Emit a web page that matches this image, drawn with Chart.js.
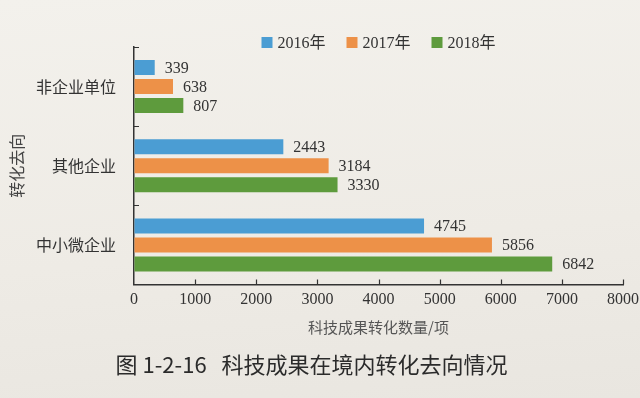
<!DOCTYPE html>
<html>
<head>
<meta charset="utf-8">
<title>科技成果在境内转化去向情况</title>
<script src="https://cdn.jsdelivr.net/npm/chart.js"></script>
<style>
  html, body { margin: 0; padding: 0; }
  body {
    width: 640px; height: 398px; overflow: hidden;
    background: linear-gradient(175deg, #f3f1ec 0%, #eeebe5 60%, #e9e6e0 100%);
  }
  #wrap { position: relative; width: 640px; height: 398px; }
</style>
</head>
<body>
<div id="wrap"><canvas id="chart" width="640" height="398"></canvas></div>
<script>
  // 数据
  const categories = ['非企业单位', '其他企业', '中小微企业'];
  const years = ['2016年', '2017年', '2018年'];
  const values2016 = [339, 2443, 4745];
  const values2017 = [638, 3184, 5856];
  const values2018 = [807, 3330, 6842];
  const xMax = 8000;
  const xStep = 1000;

  const colors = ['#4b9dd3', '#ed9148', '#5e9b3d'];
  const serif = "'Liberation Serif', 'Noto Sans CJK SC', serif";
  const cjk = "'Noto Sans CJK SC', sans-serif";

  // 柱末端数值
  const valueLabels = {
    id: 'valueLabels',
    afterDatasetsDraw(chart) {
      const ctx = chart.ctx;
      ctx.save();
      ctx.font = '16px ' + serif;
      ctx.fillStyle = '#333';
      ctx.textAlign = 'left';
      ctx.textBaseline = 'middle';
      chart.data.datasets.forEach((ds, i) => {
        chart.getDatasetMeta(i).data.forEach((bar, j) => {
          ctx.fillText(String(ds.data[j]), bar.x + 10, bar.y + 1);
        });
      });
      ctx.restore();
    }
  };

  // 向内的小刻度 + 顶部图例
  const decorations = {
    id: 'decorations',
    afterDraw(chart) {
      const ctx = chart.ctx;
      const x = chart.scales.x, y = chart.scales.y;
      const area = chart.chartArea;
      ctx.save();
      ctx.strokeStyle = '#333';
      ctx.lineWidth = 1.2;
      ctx.beginPath();
      for (let v = xStep; v <= xMax; v += xStep) {
        const px = Math.round(x.getPixelForValue(v)) + 0.5;
        ctx.moveTo(px, area.bottom);
        ctx.lineTo(px, area.bottom - 5);
      }
      for (let i = 0; i < categories.length; i++) {
        const py = Math.round(y.getPixelForValue(i - 0.5)) + 0.5;
        ctx.moveTo(area.left, py);
        ctx.lineTo(area.left + 5, py);
      }
      ctx.stroke();

      // 图例
      ctx.font = '16px ' + serif;
      ctx.textBaseline = 'middle';
      ctx.textAlign = 'left';
      const box = 11, gap = 5, spacing = 21;
      const widths = years.map(t => box + gap + ctx.measureText(t).width);
      const total = widths.reduce((a, b) => a + b, 0) + spacing * (years.length - 1);
      let lx = (area.left + area.right) / 2 - total / 2;
      const ly = 42.5;
      years.forEach((t, i) => {
        ctx.fillStyle = colors[i];
        ctx.fillRect(lx, ly - box / 2, box, box);
        ctx.fillStyle = '#333';
        ctx.fillText(t, lx + box + gap, ly + 1);
        lx += widths[i] + spacing;
      });
      ctx.restore();
    }
  };

  const datasets = [values2016, values2017, values2018].map((vals, i) => ({
    label: years[i],
    data: vals,
    backgroundColor: colors[i],
    borderWidth: 0,
    categoryPercentage: 0.72,
    barPercentage: 0.79
  }));

  new Chart(document.getElementById('chart').getContext('2d'), {
    type: 'bar',
    data: { labels: categories, datasets: datasets },
    options: {
      indexAxis: 'y',
      responsive: false,
      animation: false,
      events: [],
      layout: { padding: { top: 47, right: 17, left: 0, bottom: 0 } },
      plugins: {
        legend: { display: false },
        tooltip: { enabled: false },
        title: {
          display: true,
          position: 'bottom',
          text: '图 1-2-16   科技成果在境内转化去向情况',
          color: '#2b2b2b',
          font: { size: 22, family: cjk, weight: 'normal' },
          padding: { top: 2, bottom: 20 }
        }
      },
      scales: {
        x: {
          min: 0,
          max: xMax,
          ticks: {
            stepSize: xStep,
            color: '#333',
            font: { size: 16, family: serif },
            padding: 6,
            callback: v => String(v)
          },
          grid: { display: true, drawOnChartArea: false, drawTicks: false },
          border: { display: true, color: '#333', width: 1.5 },
          title: {
            display: true,
            text: '科技成果转化数量/项',
            color: '#555',
            font: { size: 15, family: cjk },
            padding: { top: 0, bottom: 13 }
          },
          afterFit(scale) {
            scale.height = 65;
            scale.paddingLeft = 0;
            scale.paddingRight = 0;
          }
        },
        y: {
          ticks: { color: '#333', font: { size: 16, family: cjk }, padding: 18 },
          grid: { display: true, drawOnChartArea: false, drawTicks: false },
          border: { display: true, color: '#333', width: 1.5 },
          title: {
            display: true,
            text: '转化去向',
            color: '#444',
            font: { size: 16, family: cjk },
            padding: { top: 7, bottom: 0 }
          },
          afterFit(scale) { scale.width = 134; }
        }
      }
    },
    plugins: [valueLabels, decorations]
  });
</script>
</body>
</html>
